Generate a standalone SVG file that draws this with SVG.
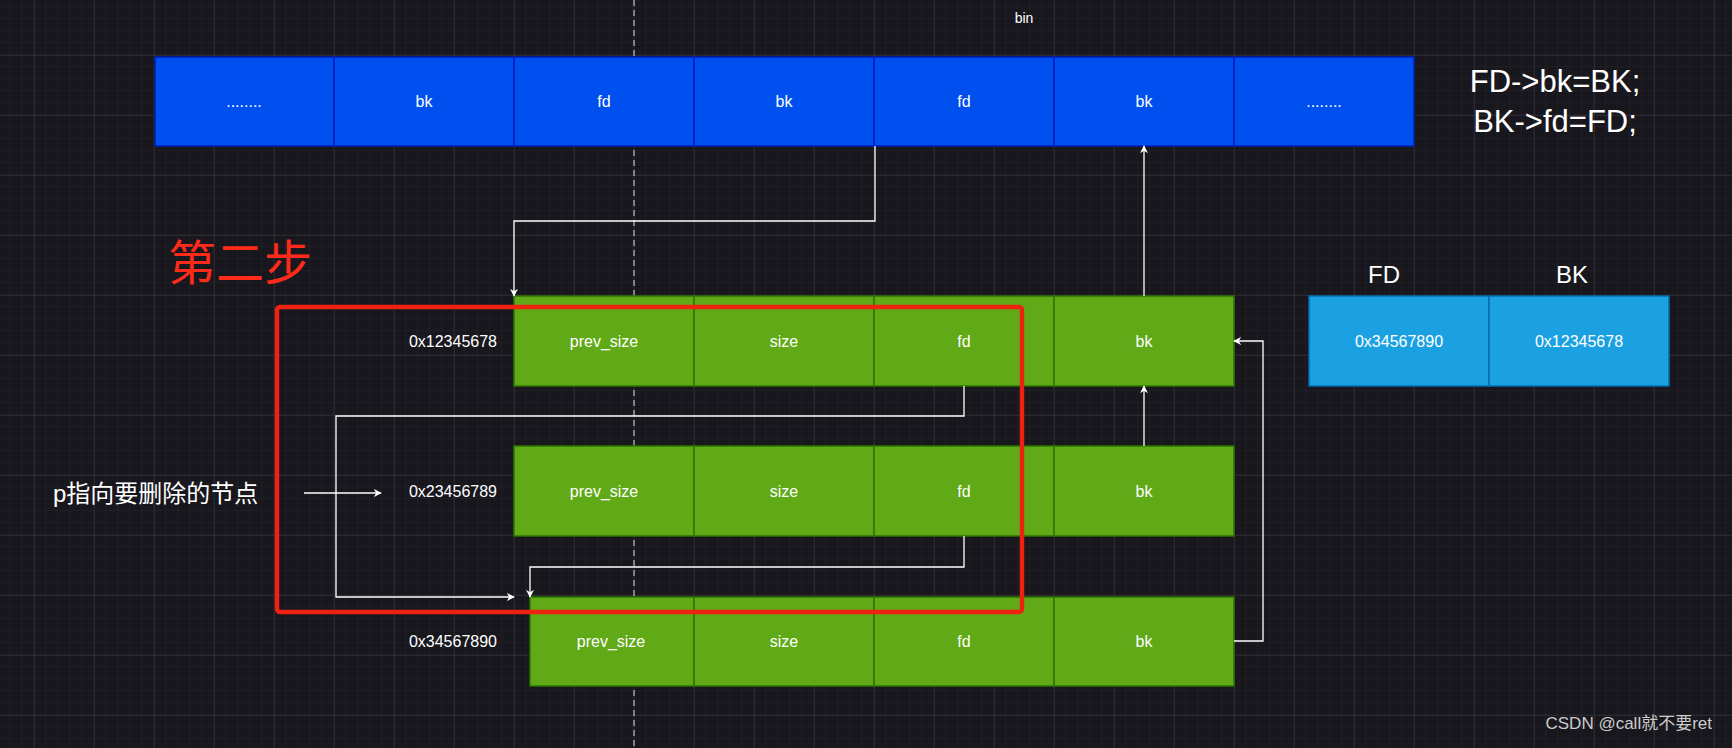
<svg xmlns="http://www.w3.org/2000/svg" width="1732" height="748" viewBox="0 0 1732 748">
<defs>
<pattern id="minor" width="12" height="12" patternUnits="userSpaceOnUse" x="10" y="7"><path d="M12 0V12M0 12H12" stroke="#25242a" stroke-width="1" fill="none"/></pattern>
<pattern id="major" width="60" height="60" patternUnits="userSpaceOnUse" x="34" y="55"><path d="M0 0V60M0 0H60" stroke="#3a393f" stroke-width="1" fill="none"/></pattern>
<marker id="ah" viewBox="0 0 10 10" refX="9" refY="5" markerWidth="8" markerHeight="8" orient="auto" markerUnits="userSpaceOnUse"><path d="M0 0L10 5L0 10L3 5Z" fill="#fff"/></marker>
<style>
text{font-family:"Liberation Sans",Arial,sans-serif;fill:#fff;}
.c{font-size:16px;text-anchor:middle;dominant-baseline:central;}
.b{fill:#0050EF;stroke:#001DBC;stroke-width:1.5;}
.g{fill:#60A917;stroke:#2D7600;stroke-width:1.5;}
.l{fill:#1BA1E2;stroke:#006EAF;stroke-width:1.5;}
.a{font-size:16px;text-anchor:end;dominant-baseline:central;}
.e{fill:none;stroke:#fff;stroke-width:1.3;}
</style>
</defs>
<rect width="1732" height="748" fill="#18171d"/>
<rect width="1732" height="748" fill="url(#minor)"/>
<rect width="1732" height="748" fill="url(#major)"/>
<line x1="634" y1="0" x2="634" y2="748" stroke="#ddd" stroke-width="1" stroke-dasharray="6 4"/>
<text x="1024" y="18" class="c" style="font-size:14px">bin</text>
<g id="bin">
<rect class="b" x="155" y="57" width="179" height="89"/><text class="c" x="244" y="101">........</text>
<rect class="b" x="334" y="57" width="180" height="89"/><text class="c" x="424" y="101">bk</text>
<rect class="b" x="514" y="57" width="180" height="89"/><text class="c" x="604" y="101">fd</text>
<rect class="b" x="694" y="57" width="180" height="89"/><text class="c" x="784" y="101">bk</text>
<rect class="b" x="874" y="57" width="180" height="89"/><text class="c" x="964" y="101">fd</text>
<rect class="b" x="1054" y="57" width="180" height="89"/><text class="c" x="1144" y="101">bk</text>
<rect class="b" x="1234" y="57" width="180" height="89"/><text class="c" x="1324" y="101">........</text>
</g>
<g id="formula"><text x="1555" y="81" class="c" style="font-size:31px">FD-&gt;bk=BK;</text><text x="1555" y="121" class="c" style="font-size:31px">BK-&gt;fd=FD;</text></g>
<g id="step"><text x="168" y="280" style="font-size:48px;fill:#ff2a1a;font-family:'Liberation Sans','Noto Sans CJK SC',sans-serif">第二步</text></g>
<g id="chunk1">
<text class="a" x="497" y="341">0x12345678</text>
<rect class="g" x="514" y="296" width="180" height="90"/><text class="c" x="604" y="341">prev_size</text>
<rect class="g" x="694" y="296" width="180" height="90"/><text class="c" x="784" y="341">size</text>
<rect class="g" x="874" y="296" width="180" height="90"/><text class="c" x="964" y="341">fd</text>
<rect class="g" x="1054" y="296" width="180" height="90"/><text class="c" x="1144" y="341">bk</text>
</g>
<g id="chunk2">
<text class="a" x="497" y="491">0x23456789</text>
<rect class="g" x="514" y="446" width="180" height="90"/><text class="c" x="604" y="491">prev_size</text>
<rect class="g" x="694" y="446" width="180" height="90"/><text class="c" x="784" y="491">size</text>
<rect class="g" x="874" y="446" width="180" height="90"/><text class="c" x="964" y="491">fd</text>
<rect class="g" x="1054" y="446" width="180" height="90"/><text class="c" x="1144" y="491">bk</text>
</g>
<g id="chunk3">
<text class="a" x="497" y="641">0x34567890</text>
<rect class="g" x="530" y="597" width="164" height="89"/><text class="c" x="611" y="641">prev_size</text>
<rect class="g" x="694" y="597" width="180" height="89"/><text class="c" x="784" y="641">size</text>
<rect class="g" x="874" y="597" width="180" height="89"/><text class="c" x="964" y="641">fd</text>
<rect class="g" x="1054" y="597" width="180" height="89"/><text class="c" x="1144" y="641">bk</text>
</g>
<g id="fdbk">
<text class="c" x="1384" y="274" style="font-size:24px">FD</text><text class="c" x="1572" y="274" style="font-size:24px">BK</text>
<rect class="l" x="1309" y="296" width="180" height="90"/><text class="c" x="1399" y="341">0x34567890</text>
<rect class="l" x="1489" y="296" width="180" height="90"/><text class="c" x="1579" y="341">0x12345678</text>
</g>
<g id="plabel"><text x="53" y="493" style="font-size:24px;dominant-baseline:central;font-family:'Liberation Sans','Noto Sans CJK SC',sans-serif">p指向要删除的节点</text></g>
<g id="connectors">
<path class="e" d="M304 493H381" marker-end="url(#ah)"/>
<path class="e" d="M875 146V221H514V296" marker-end="url(#ah)"/>
<path class="e" d="M1144 296V146" marker-end="url(#ah)"/>
<path class="e" d="M1144 446V386" marker-end="url(#ah)"/>
<path class="e" d="M964 386V416H336V597H514" marker-end="url(#ah)"/>
<path class="e" d="M964 536V567H530V597" marker-end="url(#ah)"/>
<path class="e" d="M1234 641H1263V341H1234" marker-end="url(#ah)"/>
</g>
<rect id="highlight" x="277" y="307" width="745" height="305" rx="3" fill="none" stroke="#ee2211" stroke-width="4.5"/>
<text x="1712" y="729" style="font-size:17px;fill:#ccc;text-anchor:end;font-family:'Liberation Sans','Noto Sans CJK SC',sans-serif">CSDN @call就不要ret</text>
</svg>
